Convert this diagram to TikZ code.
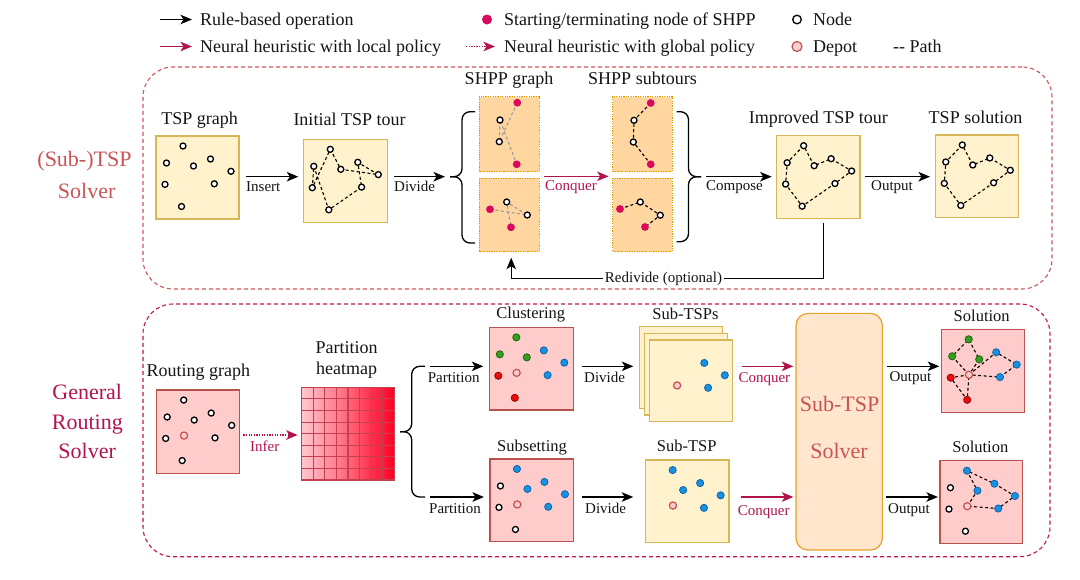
\documentclass[tikz,border=0pt]{standalone}
\usepackage{fontspec}
\setmainfont{Liberation Serif}
\usetikzlibrary{arrows.meta,calc}

\definecolor{crim}{RGB}{178,18,78}
\definecolor{subred}{RGB}{200,85,85}
\definecolor{pan1}{RGB}{208,85,90}
\definecolor{pan2}{RGB}{190,22,82}
\definecolor{yfill}{RGB}{255,242,204}
\definecolor{ydraw}{RGB}{214,182,86}
\definecolor{ofill}{RGB}{255,214,160}
\definecolor{odraw}{RGB}{215,155,0}
\definecolor{pfill}{RGB}{255,204,204}
\definecolor{pdraw}{RGB}{184,84,80}
\definecolor{sfill}{RGB}{255,230,204}
\definecolor{sdraw}{RGB}{230,160,40}
\definecolor{magn}{RGB}{218,8,95}
\definecolor{gfill}{RGB}{50,160,30}
\definecolor{gdraw}{RGB}{30,100,15}
\definecolor{bfill}{RGB}{25,145,225}
\definecolor{bdraw}{RGB}{15,100,170}
\definecolor{rfill}{RGB}{230,15,15}
\definecolor{rdraw}{RGB}{160,0,0}
\definecolor{dfill}{RGB}{248,206,204}
\definecolor{ddraw}{RGB}{200,80,80}
\definecolor{heatL}{RGB}{255,200,206}
\definecolor{heatR}{RGB}{255,0,36}
\definecolor{gridc}{RGB}{196,66,80}
\definecolor{txt}{RGB}{20,20,20}

\newcommand{\stdpts}[2]{%
 \coordinate (#1a) at ($(#2.north west)+(27,10)$);
 \coordinate (#1b) at ($(#2.north west)+(10.5,27)$);
 \coordinate (#1c) at ($(#2.north west)+(37.5,30)$);
 \coordinate (#1d) at ($(#2.north west)+(54.5,23)$);
 \coordinate (#1e) at ($(#2.north west)+(75,35.3)$);
 \coordinate (#1f) at ($(#2.north west)+(9,48.4)$);
 \coordinate (#1o) at ($(#2.north west)+(27.3,45.5)$);
 \coordinate (#1g) at ($(#2.north west)+(58.3,47.8)$);
 \coordinate (#1h) at ($(#2.north west)+(25.5,70.5)$);
}
\newcommand{\ptO}[1]{\draw[line width=1.3pt, fill=white] (#1) circle[radius=3pt];}
\newcommand{\ptD}[1]{\draw[line width=1.2pt, draw=ddraw, fill=dfill] (#1) circle[radius=3.6pt];}
\newcommand{\ptG}[1]{\draw[line width=0.8pt, draw=gdraw, fill=gfill] (#1) circle[radius=3.6pt];}
\newcommand{\ptB}[1]{\draw[line width=0.8pt, draw=bdraw, fill=bfill] (#1) circle[radius=3.6pt];}
\newcommand{\ptR}[1]{\draw[line width=0.8pt, draw=rdraw, fill=rfill] (#1) circle[radius=3.6pt];}
\newcommand{\ptM}[1]{\fill[magn] (#1) circle[radius=3.9pt];}

\begin{document}
\begin{tikzpicture}[x=1pt,y=-1pt,
 box/.style={draw, line width=1.2pt, inner sep=0, outer sep=0},
 ybox/.style={box, fill=yfill, draw=ydraw},
 obox/.style={box, fill=ofill, draw=odraw, line width=1.1pt, dash pattern=on 1.2pt off 1.2pt},
 pbox/.style={box, fill=pfill, draw=pdraw},
 ttl/.style={font=\fontsize{18}{21}\selectfont, anchor=base, inner sep=0, text=txt},
 bttl/.style={font=\fontsize{16.5}{19}\selectfont, anchor=base, inner sep=0, text=txt},
 lbl/.style={font=\fontsize{15}{18}\selectfont, anchor=base west, inner sep=0, text=txt},
 big/.style={font=\fontsize{22}{26}\selectfont, anchor=base, inner sep=0},
 arr/.style={line width=1.4pt, -{Stealth[length=11.5pt,width=9.5pt,inset=3pt]}},
 carr/.style={arr, color=crim},
 dotarr/.style={carr, dash pattern=on 1.3pt off 1.3pt},
 tour/.style={dash pattern=on 3pt off 2.5pt, line width=1.1pt},
 gtour/.style={tour, draw=black!40},
 brc/.style={line width=1.3pt, rounded corners=8pt},
 panel/.style={dash pattern=on 4pt off 3pt, line width=1.1pt, rounded corners=30pt, inner sep=0, outer sep=0}
]
\useasboundingbox (0,0) rectangle (1080,579);

% ---------------- legend ----------------
\coordinate (l1s) at (160,19.5); \coordinate (l1e) at (192,19.5);
\draw[arr] (l1s) -- (l1e);
\node[ttl, anchor=base west] (lgt1) at (200,25) {Rule-based operation};
\coordinate (lm) at (487,19.5);
\fill[magn] (lm) circle[radius=5pt];
\node[ttl, anchor=base west] (lgt2) at (504,25) {Starting/terminating node of SHPP};
\coordinate (lo) at (797,19.5);
\draw[line width=1.3pt, fill=white] (lo) circle[radius=4.3pt];
\node[ttl, anchor=base west] (lgt3) at (813,25) {Node};
\coordinate (l2s) at (160,46.5); \coordinate (l2e) at (192,46.5);
\draw[carr] (l2s) -- (l2e);
\node[ttl, anchor=base west] (lgt4) at (200,52) {Neural heuristic with local policy};
\coordinate (l3s) at (466,46.5); \coordinate (l3e) at (495,46.5);
\draw[dotarr] (l3s) -- (l3e);
\node[ttl, anchor=base west] (lgt5) at (504,52) {Neural heuristic with global policy};
\coordinate (ld) at (797,46.5);
\draw[line width=1.2pt, draw=ddraw, fill=dfill] (ld) circle[radius=5pt];
\node[ttl, anchor=base west] (lgt6) at (813,52) {Depot};
\node[ttl, anchor=base west] (lgt7) at (893,52) {-{}- Path};

% ---------------- top panel ----------------
\node[panel, draw=pan1, minimum width=909pt, minimum height=222pt] (panelA) at (597.5,178) {};
\node[big, text=subred] (pa1) at (84.5,166) {(Sub-)TSP};
\node[big, text=subred] (pa2) at (86.7,198.3) {Solver};
\coordinate (rowT) at (0,176.7);

% TSP graph
\node[ybox, minimum width=83pt, minimum height=83pt] (tsp) at (197.5,177.5) {};
\node[ttl] (tspt) at (199.7,124) {TSP graph};
\stdpts{tg}{tsp}
\foreach \p in {a,b,c,d,e,f,g,h} {\ptO{tg\p}}

% Initial tour
\node[ybox, minimum width=84pt, minimum height=83.4pt] (init) at (345.3,181) {};
\node[ttl] (initt) at (349.5,125) {Initial TSP tour};
\stdpts{it}{init}
\draw[tour] (ita) -- (itc) -- (ite) -- (itd) -- (itg) -- (ith) -- (itb) -- (itf) -- cycle;
\foreach \p in {a,b,c,d,e,f,g,h} {\ptO{it\p}}

\draw[arr, shorten <=7pt, shorten >=5pt] (tsp.east |- rowT) -- (init.west |- rowT);
\node[lbl] (insl) at (246,191.7) {Insert};

% left brace
\coordinate (lbt) at (450,176.7);
\draw[brc] (475,111.7) -- (462,111.7) -- (462,176.7) -- (lbt);
\draw[brc] (lbt) -- (462,176.7) -- (462,243) -- (475,243);
\draw[arr, shorten <=6.7pt, shorten >=5pt] (init.east |- rowT) -- (lbt);
\node[lbl] (divl) at (394,191.7) {Divide};

% SHPP boxes
\node[obox, minimum width=59.7pt, minimum height=75pt] (sA) at (509.2,134.2) {};
\node[obox, minimum width=59.7pt, minimum height=73.4pt] (sB) at (509.2,215) {};
\node[obox, minimum width=59.7pt, minimum height=75pt] (sC) at (642.5,134.2) {};
\node[obox, minimum width=59.7pt, minimum height=73.4pt] (sD) at (642.5,215) {};
\node[ttl] (sAt) at (509,84.3) {SHPP graph};
\node[ttl] (sCt) at (642.5,84.3) {SHPP subtours};

\coordinate (m1) at (517.3,102.7); \coordinate (o1) at (500,120);
\coordinate (o2) at (499.3,141.7); \coordinate (m2) at (516.7,164.3);
\draw[gtour] (m1) -- (o2) -- (o1) -- (m2);
\ptM{m1} \ptM{m2} \ptO{o1} \ptO{o2}

\coordinate (o3) at (506.7,202); \coordinate (m3) at (490,209.3);
\coordinate (o4) at (527.3,215); \coordinate (m4) at (511,227.3);
\draw[gtour] (m3) -- (o4) -- (o3) -- (m4);
\ptM{m3} \ptM{m4} \ptO{o3} \ptO{o4}

\coordinate (m5) at (650.7,103); \coordinate (o5) at (634,120.3);
\coordinate (o6) at (633.3,142); \coordinate (m6) at (650.7,164.3);
\draw[tour] (m5) -- (o5) -- (o6) -- (m6);
\ptM{m5} \ptM{m6} \ptO{o5} \ptO{o6}

\coordinate (m7) at (620,209); \coordinate (o7) at (640.3,202);
\coordinate (o8) at (660.3,215.2); \coordinate (m8) at (645,227);
\draw[tour] (m7) -- (o7) -- (o8) -- (m8);
\ptM{m7} \ptM{m8} \ptO{o7} \ptO{o8}

\coordinate (cqa) at (0,176.3);
\draw[carr, shorten <=5pt, shorten >=4pt] (sA.east |- cqa) -- (sC.west |- cqa);
\node[lbl, text=crim] (cql) at (545,190) {Conquer};

% right brace
\coordinate (rbt) at (701,176.7);
\draw[brc] (676.7,111.7) -- (688.5,111.7) -- (688.5,176.7) -- (rbt);
\draw[brc] (rbt) -- (688.5,176.7) -- (688.5,241.7) -- (676.7,241.7);

% improved tour
\node[ybox, minimum width=83.3pt, minimum height=82.6pt] (imp) at (818.3,177) {};
\node[ttl] (impt) at (818.3,123.3) {Improved TSP tour};
\stdpts{ip}{imp}
\draw[tour] (ipa) -- (ipb) -- (ipf) -- (iph) -- (ipg) -- (ipe) -- (ipd) -- (ipc) -- cycle;
\foreach \p in {a,b,c,d,e,f,g,h} {\ptO{ip\p}}
\draw[arr, shorten <=5pt, shorten >=5pt] (rbt) -- (imp.west |- rbt);
\node[lbl] (cpl) at (706,190) {Compose};

% TSP solution
\node[ybox, minimum width=83pt, minimum height=82.7pt] (sol) at (976.8,176.3) {};
\node[ttl] (solt) at (975.5,123.3) {TSP solution};
\stdpts{sp}{sol}
\draw[tour] (spa) -- (spb) -- (spf) -- (sph) -- (spg) -- (spe) -- (spd) -- (spc) -- cycle;
\foreach \p in {a,b,c,d,e,f,g,h} {\ptO{sp\p}}
\draw[arr, shorten <=5.5pt, shorten >=5.3pt] (imp.east |- rowT) -- (sol.west |- rowT);
\node[lbl] (outl) at (871,190) {Output};

% redivide
\draw[arr, line width=1.3pt, shorten <=5pt, shorten >=6pt] ([xshift=5pt]imp.south) -- ++(0,60) -| ([xshift=2pt]sB.south);
\node[font=\fontsize{15}{18}\selectfont, fill=white, inner xsep=1.5pt, inner ysep=0pt, text=txt] (rdl) at (663.5,278.6) {Redivide (optional)};

% ---------------- bottom panel ----------------
\node[panel, draw=pan2, minimum width=907pt, minimum height=252.7pt] (panelB) at (596.5,430.35) {};
\node[big, text=crim] (pb1) at (87.2,399.3) {General};
\node[big, text=crim] (pb2) at (87.3,429.3) {Routing};
\node[big, text=crim] (pb3) at (87.2,458.3) {Solver};
\coordinate (rowA) at (0,366.3);
\coordinate (rowB) at (0,497);

% routing graph
\node[pbox, minimum width=82.6pt, minimum height=83.3pt] (rg) at (198,431.7) {};
\node[ttl] (rgt) at (198.3,376.7) {Routing graph};
\stdpts{rp}{rg}
\foreach \p in {a,b,c,d,e,f,g,h} {\ptO{rp\p}}
\ptD{rpo}

% heatmap
\node[minimum width=92.6pt, minimum height=92.7pt, inner sep=0, outer sep=0] (heat) at (348,433.7) {};
\foreach \i in {0,...,7} {
 \pgfmathsetmacro\pa{int(100*\i/8)}
 \pgfmathsetmacro\pb{int(100*(\i+1)/8)}
 \shade[left color=heatR!\pa!heatL, right color=heatR!\pb!heatL]
   ($(heat.north west)!{\i/8}!(heat.north east)$) rectangle ($(heat.south west)!{(\i+1)/8}!(heat.south east)$);
}
\foreach \i in {1,...,7} {
 \draw[draw=gridc, line width=1.1pt] ($(heat.north west)!{\i/8}!(heat.north east)$) -- ($(heat.south west)!{\i/8}!(heat.south east)$);
 \draw[draw=gridc, line width=1.1pt] ($(heat.north west)!{\i/8}!(heat.south west)$) -- ($(heat.north east)!{\i/8}!(heat.south east)$);
}
\draw[draw=gridc, line width=1.2pt] (heat.north west) rectangle (heat.south east);
\node[ttl] (ht1) at (346.7,353.3) {Partition};
\node[ttl] (ht2) at (346.7,374) {heatmap};

\draw[dotarr, shorten <=4pt, shorten >=4pt] ($(rg.east)+(0,3.3)$) -- ($(rg.east -| heat.west)+(0,3.3)$);
\node[lbl, text=crim] (infl) at (250,451.7) {Infer};

% brace
\coordinate (bbt) at (425,366.3);
\coordinate (bbb) at (425,497);
\draw[brc] (bbt) -- (411.7,366.3) -- (411.7,431.7) -- (400,431.7);
\draw[brc] (400,431.7) -- (411.7,431.7) -- (411.7,497) -- (bbb);

% clustering
\node[pbox, minimum width=84pt, minimum height=82.7pt] (clus) at (531.3,368.7) {};
\node[bttl] (clt) at (530.8,318.3) {Clustering};
\stdpts{cl}{clus}
\ptG{cla} \ptG{clb} \ptG{clc} \ptB{cld} \ptB{cle} \ptB{clg} \ptR{clf} \ptR{clh} \ptD{clo}
\draw[arr, shorten <=5pt, shorten >=6pt] (bbt) -- (clus.west |- rowA);
\node[lbl] (pal1) at (427.7,382.7) {Partition};

% subsetting
\node[pbox, minimum width=83.7pt, minimum height=82.7pt] (subs) at (531.8,500.3) {};
\node[bttl] (sst) at (532,451.7) {Subsetting};
\stdpts{ss}{subs}
\ptB{ssa} \ptB{ssc} \ptB{ssd} \ptB{sse} \ptB{ssg} \ptO{ssb} \ptO{ssf} \ptO{ssh} \ptD{sso}
\draw[arr, shorten <=5pt, shorten >=6pt] (bbb) -- (subs.west |- rowB);
\node[lbl] (pal2) at (429,513.3) {Partition};

% sub-TSPs
\node[ybox, minimum width=83pt, minimum height=81.7pt] (back) at (680.8,367.5) {};
\node[ybox, minimum width=83pt, minimum height=81.7pt] (mid) at (686.1,374.2) {};
\node[ybox, minimum width=83pt, minimum height=81.7pt] (front) at (691.3,380.8) {};
\node[bttl] (stt) at (685.5,319.3) {Sub-TSPs};
\stdpts{fr}{front}
\ptB{frd} \ptB{fre} \ptB{frg} \ptD{fro}
\draw[arr, shorten <=8.4pt, shorten >=6pt] (clus.east |- rowA) -- (back.west |- rowA);
\node[lbl] (dvl1) at (584,382.7) {Divide};

% sub-TSP
\node[ybox, minimum width=83.3pt, minimum height=82.3pt] (subt) at (687.3,501.2) {};
\node[bttl] (sut) at (686.7,451.7) {Sub-TSP};
\stdpts{su}{subt}
\ptB{sua} \ptB{suc} \ptB{sud} \ptB{sue} \ptB{sug} \ptD{suo}
\draw[arr, shorten <=8pt, shorten >=12.4pt] (subs.east |- rowB) -- (subt.west |- rowB);
\node[lbl] (dvl2) at (585,513.3) {Divide};

% solver
\node[draw=sdraw, fill=sfill, line width=1.2pt, rounded corners=12pt, minimum width=86.3pt, minimum height=236.7pt, inner sep=0, outer sep=0] (solver) at (839.2,431.7) {};
\node[big, text=subred] (sv1) at (839.5,411.7) {Sub-TSP};
\node[big, text=subred] (sv2) at (839,458.3) {Solver};
\draw[carr, shorten <=9pt, shorten >=2.7pt] (front.east |- rowA) -- (solver.west |- rowA);
\node[lbl, text=crim] (cql1) at (738.3,382.7) {Conquer};
\draw[carr, shorten <=11.7pt, shorten >=2.7pt] (subt.east |- rowB) -- (solver.west |- rowB);
\node[lbl, text=crim] (cql2) at (737.7,515) {Conquer};

% solutions
\node[pbox, minimum width=82.6pt, minimum height=83.4pt] (sol1) at (983,371) {};
\node[bttl] (s1t) at (981.7,321.7) {Solution};
\stdpts{sa}{sol1}
\draw[tour] (sao) -- (sab) -- (saa) -- (sac) -- cycle;
\draw[tour] (sao) -- (sad) -- (sae) -- (sag) -- cycle;
\draw[tour] (sao) -- (saf) -- (sah) -- cycle;
\ptG{saa} \ptG{sab} \ptG{sac} \ptB{sad} \ptB{sae} \ptB{sag} \ptR{saf} \ptR{sah} \ptD{sao}
\draw[arr, shorten <=5pt, shorten >=2.4pt] (solver.east |- rowA) -- (sol1.west |- rowA);
\node[lbl] (ol1) at (889.3,381.7) {Output};

\node[pbox, minimum width=82.7pt, minimum height=82.6pt] (sol2) at (981.3,502) {};
\node[bttl] (s2t) at (980.3,452.7) {Solution};
\stdpts{sb}{sol2}
\draw[tour] (sbo) -- (sbc) -- (sba) -- (sbd) -- (sbe) -- (sbg) -- cycle;
\ptB{sba} \ptB{sbc} \ptB{sbd} \ptB{sbe} \ptB{sbg} \ptO{sbb} \ptO{sbf} \ptO{sbh} \ptD{sbo}
\draw[arr, shorten <=3.7pt, shorten >=2pt] (solver.east |- rowB) -- (sol2.west |- rowB);
\node[lbl] (ol2) at (888,513.3) {Output};

\end{tikzpicture}
\end{document}
